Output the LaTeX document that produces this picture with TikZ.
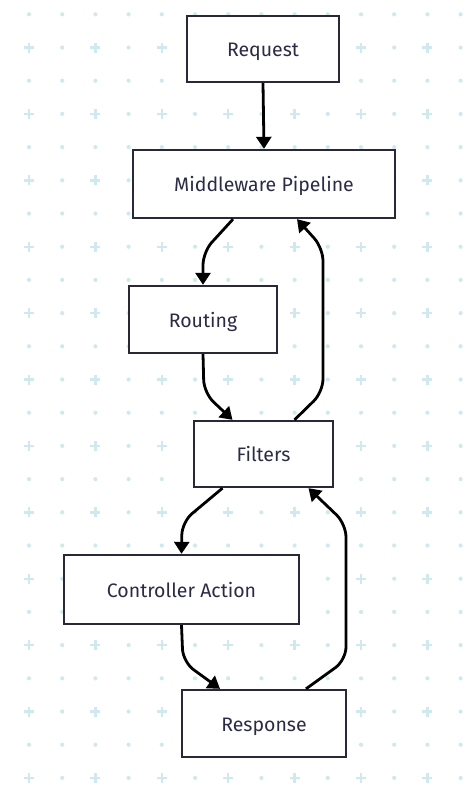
\documentclass[tikz,border=0pt]{standalone}
\usepackage{fontspec}
\setmainfont{Fira Sans}
\usetikzlibrary{arrows.meta}
\definecolor{gridc}{HTML}{D0E9EE}
\definecolor{boxc}{HTML}{2A2838}
\definecolor{txtc}{HTML}{2B2B45}
\tikzset{
  box/.style={draw=boxc, line width=2.3pt, fill=white, minimum width=#1, inner sep=0pt, text height=17pt, text depth=2pt, font=\fontsize{19.5}{22}\selectfont, text=txtc},
  conn/.style={draw=black, line width=2.8pt, rounded corners=13pt, -{Triangle[length=12pt,width=15pt]}},
}
\begin{document}
\begin{tikzpicture}[x=1pt,y=-1pt]
\useasboundingbox[fill=white] (0,0) rectangle (468,790);
% background grid
\foreach \i in {0,...,23}{
  \foreach \j in {0,...,13}{
    \pgfmathtruncatemacro{\pl}{(mod(\i,2)==1) && (mod(\j,2)==0)}
    \pgfmathsetmacro{\gx}{29+33.2*\j}
    \pgfmathsetmacro{\gy}{14.3+33.2*\i}
    \ifnum\pl=1
      \draw[gridc, line width=2.4pt] (\gx-5,\gy) -- (\gx+5,\gy) (\gx,\gy-5) -- (\gx,\gy+5);
    \else
      \fill[gridc] (\gx,\gy) circle (2.1pt);
    \fi
  }
}
% nodes
\node[box=152pt, minimum height=66pt] (req) at (263,49) {Request};
\node[box=262pt, minimum height=68pt] (mw) at (264,184) {Middleware Pipeline};
\node[box=148pt, minimum height=67pt] (ro) at (203,319.5) {Routing};
\node[box=139pt, minimum height=66pt] (fi) at (263.5,454) {Filters};
\node[box=235pt, minimum height=69pt] (ca) at (181.5,589.5) {Controller Action};
\node[box=164pt, minimum height=67pt] (re) at (264,723.5) {Response};
% connectors
\draw[conn] (req.south) -- (mw.north);
\draw[conn] ([xshift=-31pt]mw.south) -- (203,252) -- ([xshift=0pt]ro.north);
\draw[conn] (ro.south) -- (204,393) -- ([xshift=-31pt]fi.north);
\draw[conn] ([xshift=31pt]fi.north) -- (323,392) -- (323,248) -- ([xshift=33pt]mw.south);
\draw[conn] ([xshift=-41pt]fi.south) -- (182,522) -- (ca.north);
\draw[conn] (ca.south) -- (183,662) -- ([xshift=-44pt]re.north);
\draw[conn] ([xshift=42pt]re.north) -- (346,660) -- (346,524) -- ([xshift=45pt]fi.south);
\end{tikzpicture}
\end{document}
